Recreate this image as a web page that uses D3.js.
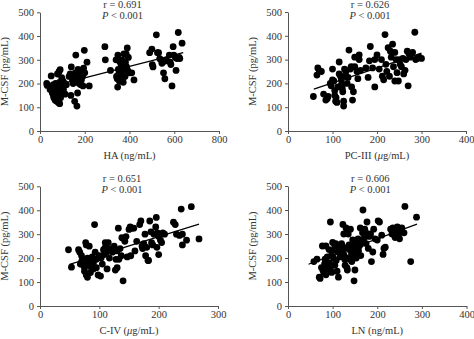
<!DOCTYPE html>
<html>
<head>
<meta charset="utf-8">
<script src="https://cdn.jsdelivr.net/npm/d3@7"></script>
<style>
  body { margin: 0; background: #fff; }
  svg text { font-family: "Liberation Serif", "Times New Roman", serif; fill: #333; }
</style>
</head>
<body>
<div id="chart"></div>
<script>
// HA vs M-CSF
const haData = [
  [30,200],[32,192],[45,175],[50,232],[52,190],[55,160],[57,180],[60,150],[60,195],[62,140],
  [65,170],[65,185],[68,130],[70,155],[70,200],[72,175],[73,145],[75,125],[75,165],[77,190],
  [78,240],[80,135],[80,160],[82,120],[83,178],[85,250],[85,150],[87,205],[88,115],[90,258],
  [90,170],[92,140],[95,185],[97,225],[100,160],[103,210],[105,175],[110,200],[112,155],[118,195],
  [130,230],[135,240],[138,150],[140,270],[145,215],[148,200],[150,235],[155,125],[158,245],[160,320],
  [162,210],[165,105],[165,225],[168,160],[170,260],[172,230],[175,200],[178,255],[180,240],[182,195],
  [185,215],[188,250],[190,230],[192,190],[195,265],[198,340],[200,245],[210,290],[220,190],
  [290,355],[292,300],[315,255],[340,300],[342,230],[345,220],[347,185],[348,320],[350,260],[352,240],
  [355,210],[358,290],[360,225],[362,270],[365,250],[367,300],[368,215],[370,280],[372,205],[375,325],
  [378,260],[380,230],[382,290],[385,325],[387,270],[390,350],[392,255],[395,310],[400,245],[410,245],[420,215],
  [490,330],[500,345],[502,280],[505,270],[520,405],[525,330],[530,330],[535,305],[540,300],[545,285],
  [548,290],[552,245],[558,220],[562,295],[565,300],[578,320],[582,290],[585,280],[590,190],[595,355],
  [598,320],[605,310],[608,255],[612,305],[618,415],[622,310],[625,305],[635,370]
];

// PC-III vs M-CSF
const pc3Data = [
  [57,145],[65,235],[67,265],[70,255],[75,250],[80,155],[85,130],[88,135],[90,145],[95,200],
  [97,190],[100,260],[100,215],[103,210],[105,170],[105,150],[107,125],[108,140],[110,120],[112,185],
  [115,290],[115,240],[118,230],[120,215],[120,195],[122,180],[123,165],[125,105],[125,125],[127,260],
  [130,250],[130,230],[133,200],[135,225],[137,340],[140,260],[142,270],[143,185],[145,130],[147,165],
  [150,310],[150,270],[155,250],[157,220],[160,300],[160,320],[163,255],[175,265],[180,225],[183,295],
  [185,355],[190,265],[195,185],[195,300],[200,320],[205,260],[210,300],[212,230],[215,215],[218,405],
  [220,280],[222,250],[225,350],[228,230],[230,335],[232,310],[235,365],[237,270],[240,210],[240,330],
  [243,300],[245,245],[248,210],[250,300],[252,280],[255,270],[258,305],[260,240],[263,255],[265,300],
  [268,335],[270,190],[272,325],[275,310],[280,330],[285,415],[287,300],[290,305],[295,310],[300,305]
];

// C-IV vs M-CSF
const c4Data = [
  [48,235],[53,162],[65,235],[67,225],[68,175],[70,210],[70,185],[72,195],[73,170],[75,160],
  [75,145],[77,265],[78,255],[78,130],[80,200],[80,175],[80,120],[82,185],[83,250],[85,140],
  [85,165],[87,190],[88,205],[90,180],[90,155],[92,340],[93,225],[95,160],[95,195],[98,130],
  [100,210],[102,125],[103,200],[105,175],[107,235],[108,215],[110,265],[110,245],[112,225],[113,155],
  [115,265],[117,200],[118,240],[120,230],[122,225],[125,250],[127,150],[128,195],[130,160],[130,230],
  [132,325],[133,195],[135,240],[137,210],[138,285],[140,105],[142,280],[143,270],[145,290],[147,205],
  [150,320],[152,330],[153,210],[155,325],[158,325],[160,230],[163,270],[168,340],[170,355],[172,250],
  [173,240],[175,260],[177,300],[178,210],[180,245],[182,190],[183,190],[185,355],[187,310],[188,265],
  [190,255],[192,300],[195,330],[196,370],[197,245],[198,305],[200,215],[200,290],[203,275],[205,265],
  [207,305],[210,300],[225,350],[228,340],[230,300],[235,295],[238,405],[240,300],[240,255],[247,275],
  [255,415],[268,280]
];

// LN vs M-CSF
const lnData = [
  [58,185],[65,195],[70,120],[72,115],[75,160],[77,250],[78,150],[80,140],[82,175],[83,195],
  [85,250],[85,130],[87,160],[88,205],[90,145],[92,235],[93,180],[95,350],[95,155],[97,210],
  [98,140],[100,265],[100,230],[102,200],[105,170],[105,250],[107,260],[108,190],[110,145],[112,225],
  [113,120],[115,245],[117,205],[118,235],[120,230],[120,260],[122,250],[123,340],[125,300],[125,215],
  [127,195],[128,170],[130,325],[130,240],[132,160],[133,150],[135,200],[135,300],[137,255],[138,195],
  [140,320],[140,230],[142,210],[143,185],[145,275],[147,250],[148,105],[150,150],[150,235],[152,215],
  [153,200],[155,260],[157,280],[158,230],[160,250],[162,325],[163,210],[165,260],[167,305],[168,400],
  [170,280],[172,320],[173,310],[175,260],[177,350],[178,300],[180,240],[182,290],[185,300],[187,185],
  [190,225],[192,320],[195,280],[200,275],[202,355],[205,350],[210,295],[213,215],[215,240],[218,245],
  [230,320],[233,300],[235,325],[240,285],[242,310],[245,330],[248,300],[250,280],[255,325],[260,305],
  [262,415],[275,185],[288,370]
];

const panelData = [haData, pc3Data, c4Data, lnData];
const xLabels = ['HA (ng/mL)', 'PC-III (μg/mL)', 'C-IV (μg/mL)', 'LN (ng/mL)'];
const rValues = ['0.691', '0.626', '0.651', '0.606'];
const xMax = [800, 400, 300, 400];
const xTickStep = [200, 100, 100, 100];
const yTicks = [0, 100, 200, 300, 400, 500];
// fitted regression lines
const fitSlope = [0.2414, 0.624, 0.77, 0.687];
const fitIntercept = [175.5, 139.8, 135.5, 142.4];
const fitRange = [[60, 640], [58, 300], [50, 268], [46, 289]];

const W = 474, H = 339;
const svg = d3.select('#chart').append('svg')
  .attr('width', W)
  .attr('height', H);

// plot boxes [left, top, right, bottom]
const boxes = [
  [40, 12.3, 219, 131],
  [288, 12, 466, 131],
  [40, 186.3, 218, 306],
  [288, 186, 466.5, 306]
];

const fs = 10.5;

panelData.forEach((data, i) => {
  const [l, t, r, b] = boxes[i];
  const x = d3.scaleLinear([0, xMax[i]], [l, r]);
  const y = d3.scaleLinear([0, 500], [b, t]);
  const g = svg.append('g');

  const xAxis = g.append('g')
    .attr('transform', `translate(0,${b})`)
    .call(d3.axisBottom(x)
      .tickValues(d3.range(0, xMax[i] + 1, xTickStep[i]))
      .tickSize(3).tickSizeOuter(0).tickPadding(2));
  const yAxis = g.append('g')
    .attr('transform', `translate(${l},0)`)
    .call(d3.axisLeft(y).tickValues(yTicks)
      .tickSize(3).tickSizeOuter(0).tickPadding(3));

  [xAxis, yAxis].forEach(ax => {
    ax.select('.domain').attr('stroke', '#555');
    ax.selectAll('.tick line').attr('stroke', '#555');
    ax.selectAll('.tick text')
      .style('font-family', '"Liberation Serif", serif')
      .style('font-size', fs + 'px')
      .attr('fill', '#333');
  });

  g.append('g').selectAll('circle')
    .data(data)
    .join('circle')
      .attr('cx', d => x(d[0]))
      .attr('cy', d => y(d[1]))
      .attr('r', 3.4)
      .attr('fill', '#000');

  const [fx1, fx2] = fitRange[i];
  g.append('line')
    .attr('x1', x(fx1))
    .attr('y1', y(fitIntercept[i] + fitSlope[i] * fx1))
    .attr('x2', x(fx2))
    .attr('y2', y(fitIntercept[i] + fitSlope[i] * fx2))
    .attr('stroke', '#000')
    .attr('stroke-width', 1.2);

  const cx = (l + r) / 2 - 7;
  g.append('text')
    .attr('x', cx).attr('y', t - 6.5)
    .attr('text-anchor', 'middle')
    .attr('dominant-baseline', 'middle')
    .style('font-size', fs + 'px')
    .text('r = ' + rValues[i]);
  const pt = g.append('text')
    .attr('x', cx).attr('y', t + 5)
    .attr('text-anchor', 'middle')
    .attr('dominant-baseline', 'middle')
    .style('font-size', fs + 'px');
  pt.append('tspan').style('font-style', 'italic').text('P');
  pt.append('tspan').text(' < 0.001');

  // x label, with italic μ
  const xl = g.append('text')
    .attr('x', (l + r) / 2).attr('y', b + 26)
    .attr('text-anchor', 'middle')
    .attr('dominant-baseline', 'middle')
    .style('font-size', fs + 'px');
  const parts = xLabels[i].split('μ');
  xl.append('tspan').text(parts[0]);
  if (parts.length > 1) {
    xl.append('tspan').style('font-style', 'italic').text('μ');
    xl.append('tspan').text(parts[1]);
  }

  g.append('text')
    .attr('transform', `translate(${l - 34},${(t + b) / 2}) rotate(-90)`)
    .attr('text-anchor', 'middle')
    .attr('dominant-baseline', 'middle')
    .style('font-size', fs + 'px')
    .text('M-CSF (pg/mL)');
});
</script>
</body>
</html>
